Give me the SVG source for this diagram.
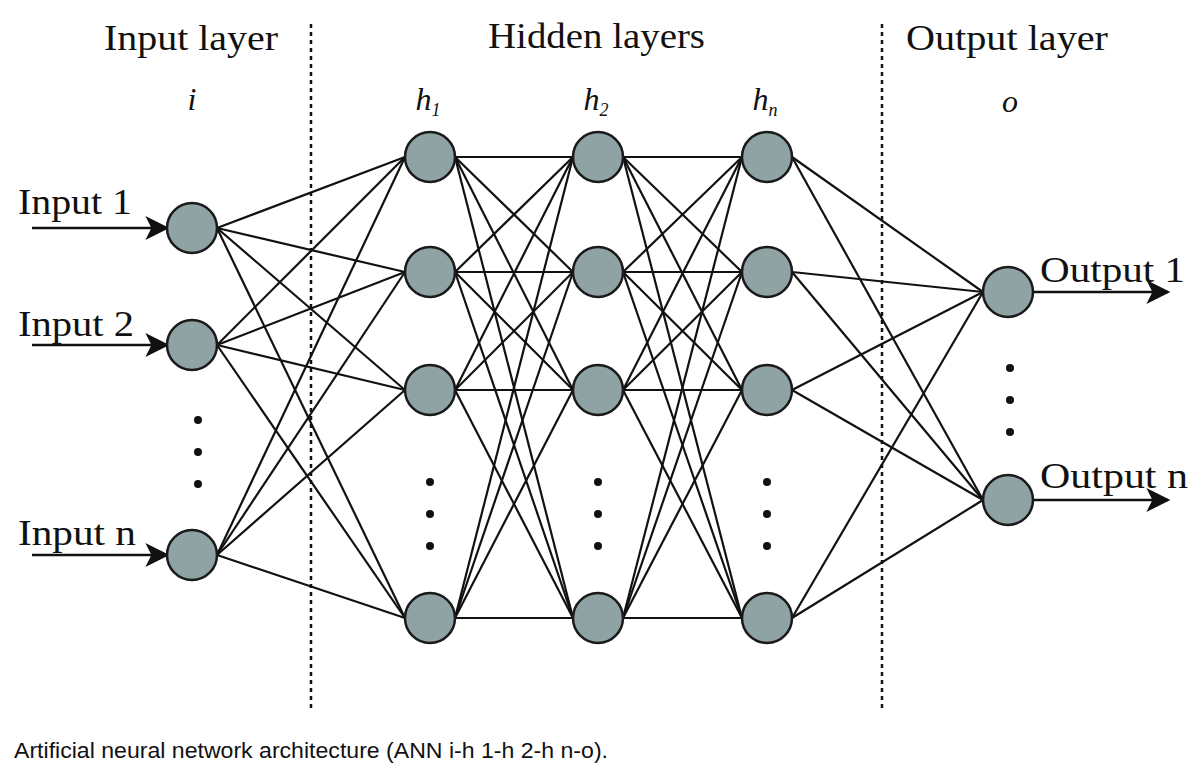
<svg xmlns="http://www.w3.org/2000/svg" width="1200" height="784" viewBox="0 0 1200 784">
<style>
.n{fill:#8fa3a5;stroke:#1a1a1a;stroke-width:2.5}
.e line{stroke:#111;stroke-width:2.2}
.t{font-family:"Liberation Serif","DejaVu Serif",serif;font-size:35px;fill:#111}
.m{font-family:"Liberation Serif","DejaVu Serif",serif;font-size:32px;font-style:italic;fill:#111;text-anchor:middle}
.d{fill:#111}
.dash{stroke:#111;stroke-width:2.5;stroke-dasharray:4,4}
</style>
<defs>
<marker id="ar2" viewBox="0 0 10 10" refX="9" refY="5" markerWidth="26" markerHeight="24" markerUnits="userSpaceOnUse" orient="auto"><path d="M0,0L10,5L0,10L2.5,5Z" fill="#111"/></marker></defs>
<rect width="1200" height="784" fill="#fff"/>
<line class="dash" x1="311" y1="24" x2="311" y2="712"/>
<line class="dash" x1="882" y1="24" x2="882" y2="712"/>
<text class="t" x="104" y="50" textLength="174" lengthAdjust="spacingAndGlyphs">Input layer</text>
<text class="t" x="488" y="48" textLength="217" lengthAdjust="spacingAndGlyphs">Hidden layers</text>
<text class="t" x="906" y="50" textLength="202" lengthAdjust="spacingAndGlyphs">Output layer</text>
<text class="m" x="192" y="110">i</text>
<text class="m" x="428" y="110">h<tspan font-size="18" dy="6">1</tspan></text>
<text class="m" x="596" y="110">h<tspan font-size="18" dy="6">2</tspan></text>
<text class="m" x="765" y="110">h<tspan font-size="18" dy="6">n</tspan></text>
<text class="m" x="1010" y="112">o</text>
<g id="connectors" class="e">
<line x1="217" y1="228" x2="405" y2="157"/><line x1="217" y1="228" x2="405" y2="272"/><line x1="217" y1="228" x2="405" y2="390"/><line x1="217" y1="228" x2="405" y2="618"/>
<line x1="217" y1="345" x2="405" y2="157"/><line x1="217" y1="345" x2="405" y2="272"/><line x1="217" y1="345" x2="405" y2="390"/><line x1="217" y1="345" x2="405" y2="618"/>
<line x1="217" y1="555" x2="405" y2="157"/><line x1="217" y1="555" x2="405" y2="272"/><line x1="217" y1="555" x2="405" y2="390"/><line x1="217" y1="555" x2="405" y2="618"/>
<line x1="455" y1="157" x2="573" y2="157"/><line x1="455" y1="157" x2="573" y2="272"/><line x1="455" y1="157" x2="573" y2="390"/><line x1="455" y1="157" x2="573" y2="618"/>
<line x1="455" y1="272" x2="573" y2="157"/><line x1="455" y1="272" x2="573" y2="272"/><line x1="455" y1="272" x2="573" y2="390"/><line x1="455" y1="272" x2="573" y2="618"/>
<line x1="455" y1="390" x2="573" y2="157"/><line x1="455" y1="390" x2="573" y2="272"/><line x1="455" y1="390" x2="573" y2="390"/><line x1="455" y1="390" x2="573" y2="618"/>
<line x1="455" y1="618" x2="573" y2="157"/><line x1="455" y1="618" x2="573" y2="272"/><line x1="455" y1="618" x2="573" y2="390"/><line x1="455" y1="618" x2="573" y2="618"/>
<line x1="623" y1="157" x2="742" y2="157"/><line x1="623" y1="157" x2="742" y2="272"/><line x1="623" y1="157" x2="742" y2="390"/><line x1="623" y1="157" x2="742" y2="618"/>
<line x1="623" y1="272" x2="742" y2="157"/><line x1="623" y1="272" x2="742" y2="272"/><line x1="623" y1="272" x2="742" y2="390"/><line x1="623" y1="272" x2="742" y2="618"/>
<line x1="623" y1="390" x2="742" y2="157"/><line x1="623" y1="390" x2="742" y2="272"/><line x1="623" y1="390" x2="742" y2="390"/><line x1="623" y1="390" x2="742" y2="618"/>
<line x1="623" y1="618" x2="742" y2="157"/><line x1="623" y1="618" x2="742" y2="272"/><line x1="623" y1="618" x2="742" y2="390"/><line x1="623" y1="618" x2="742" y2="618"/>
<line x1="792" y1="157" x2="983" y2="292"/><line x1="792" y1="157" x2="983" y2="500"/>
<line x1="792" y1="272" x2="983" y2="292"/><line x1="792" y1="272" x2="983" y2="500"/>
<line x1="792" y1="390" x2="983" y2="292"/><line x1="792" y1="390" x2="983" y2="500"/>
<line x1="792" y1="618" x2="983" y2="292"/><line x1="792" y1="618" x2="983" y2="500"/>
<line x1="32" y1="228" x2="167" y2="228" style="marker-end:url(#ar2);stroke-width:2.5"/>
<line x1="32" y1="345" x2="167" y2="345" style="marker-end:url(#ar2);stroke-width:2.5"/>
<line x1="32" y1="555" x2="167" y2="555" style="marker-end:url(#ar2);stroke-width:2.5"/>
<line x1="1033" y1="292" x2="1168" y2="292" style="marker-end:url(#ar2);stroke-width:2.5"/>
<line x1="1033" y1="500" x2="1168" y2="500" style="marker-end:url(#ar2);stroke-width:2.5"/>
</g>
<text class="t" x="18" y="214" textLength="114" lengthAdjust="spacingAndGlyphs">Input 1</text>
<text class="t" x="18" y="336" textLength="116" lengthAdjust="spacingAndGlyphs">Input 2</text>
<text class="t" x="18" y="545" textLength="118" lengthAdjust="spacingAndGlyphs">Input n</text>
<text class="t" x="1040" y="282" textLength="145" lengthAdjust="spacingAndGlyphs">Output 1</text>
<text class="t" x="1040" y="488" textLength="148" lengthAdjust="spacingAndGlyphs">Output n</text>
<g id="i1"><circle class="n" cx="192" cy="228" r="25"/></g>
<g id="i2"><circle class="n" cx="192" cy="345" r="25"/></g>
<g id="in"><circle class="n" cx="192" cy="555" r="25"/></g>
<g id="h1a"><circle class="n" cx="430" cy="157" r="25"/></g>
<g id="h1b"><circle class="n" cx="430" cy="272" r="25"/></g>
<g id="h1c"><circle class="n" cx="430" cy="390" r="25"/></g>
<g id="h1d"><circle class="n" cx="430" cy="618" r="25"/></g>
<g id="h2a"><circle class="n" cx="598" cy="157" r="25"/></g>
<g id="h2b"><circle class="n" cx="598" cy="272" r="25"/></g>
<g id="h2c"><circle class="n" cx="598" cy="390" r="25"/></g>
<g id="h2d"><circle class="n" cx="598" cy="618" r="25"/></g>
<g id="hna"><circle class="n" cx="767" cy="157" r="25"/></g>
<g id="hnb"><circle class="n" cx="767" cy="272" r="25"/></g>
<g id="hnc"><circle class="n" cx="767" cy="390" r="25"/></g>
<g id="hnd"><circle class="n" cx="767" cy="618" r="25"/></g>
<g id="o1"><circle class="n" cx="1008" cy="292" r="25"/></g>
<g id="on"><circle class="n" cx="1008" cy="500" r="25"/></g>
<g id="dots">
<circle class="d" cx="198" cy="420" r="4"/><circle class="d" cx="198" cy="452" r="4"/><circle class="d" cx="198" cy="484" r="4"/>
<circle class="d" cx="430" cy="482" r="4"/><circle class="d" cx="430" cy="514" r="4"/><circle class="d" cx="430" cy="546" r="4"/>
<circle class="d" cx="598" cy="482" r="4"/><circle class="d" cx="598" cy="514" r="4"/><circle class="d" cx="598" cy="546" r="4"/>
<circle class="d" cx="767" cy="482" r="4"/><circle class="d" cx="767" cy="514" r="4"/><circle class="d" cx="767" cy="546" r="4"/>
<circle class="d" cx="1010" cy="368" r="4"/><circle class="d" cx="1010" cy="400" r="4"/><circle class="d" cx="1010" cy="432" r="4"/>
</g>
<text x="14" y="758" font-family="Liberation Sans, Arial, sans-serif" font-size="22" fill="#111" textLength="594" lengthAdjust="spacingAndGlyphs">Artificial neural network architecture (ANN i-h 1-h 2-h n-o).</text>
</svg>
